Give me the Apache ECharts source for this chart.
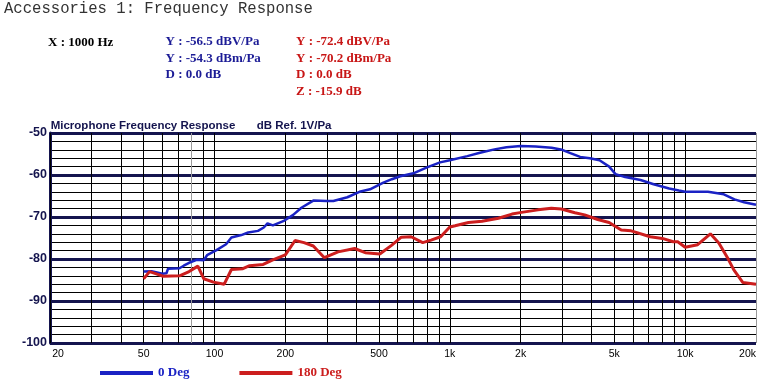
<!DOCTYPE html>
<html>
<head>
<meta charset="utf-8">
<script src="https://cdn.jsdelivr.net/npm/echarts@6/dist/echarts.min.js"></script>
<style>
html,body{margin:0;padding:0;background:#fff;}
#main{width:767px;height:383px;}
</style>
</head>
<body>
<div id="main"></div>
<script>
// ---- Data ----
const freq0 = [50,54,57,60,62.5,63.5,71,74,78,84,90,93,102,112,118,130,139,153,162,168,177,196,216,234,263,300,320,367,413,458,522,567,616,700,800,909,1000,1187,1343,1548,1741,2000,2317,2706,3000,3253,3580,3935,4326,4755,5059,5561,6463,7347,8550,9400,10000,12500,14600,16200,17800,20000];
const db0   = [-83.0,-82.9,-83.2,-83.5,-83.4,-82.3,-82.2,-81.6,-80.9,-80.2,-80.3,-79.1,-77.9,-76.5,-74.9,-74.3,-73.7,-73.3,-72.5,-71.5,-72.0,-71.0,-69.5,-67.8,-66.1,-66.2,-66.2,-65.3,-64.0,-63.4,-61.8,-61.0,-60.3,-59.6,-58.2,-57.0,-56.5,-55.5,-54.7,-53.9,-53.4,-53.1,-53.2,-53.5,-54.0,-54.8,-55.7,-56.0,-56.5,-58.0,-59.8,-60.5,-61.2,-62.2,-63.2,-63.7,-64.0,-64.0,-64.6,-65.8,-66.5,-67.1];

const freq180 = [50,53,57,60.5,71,78,85,90,99,110,118,132,141,161,177,200,220,240,263,293,335,394,437,504,567,622,685,767,832,914,1000,1053,1200,1370,1610,1837,2017,2370,2700,2980,3400,3740,4250,4750,5350,5900,7100,8000,8900,9300,10000,11300,12800,13900,15200,16100,17600,20000];
const db180   = [-84.7,-83.0,-83.6,-84.1,-84.0,-83.0,-81.7,-84.7,-85.5,-86.0,-82.5,-82.3,-81.6,-81.3,-80.2,-79.0,-75.6,-76.1,-76.9,-79.7,-78.3,-77.5,-78.5,-78.8,-76.7,-74.8,-74.7,-76.1,-75.5,-74.7,-72.4,-72.1,-71.3,-71.0,-70.3,-69.3,-68.9,-68.3,-67.9,-68.1,-69.0,-69.5,-70.6,-71.3,-73.1,-73.3,-74.7,-75.1,-75.9,-75.9,-77.2,-76.6,-74.0,-76.2,-79.9,-82.6,-85.6,-86.0];

const xGridValues = [20,30,40,50,60,70,80,90,100,200,300,400,500,600,700,800,900,1000,2000,3000,4000,5000,6000,7000,8000,9000,10000,20000];
const xTickLabels = [20,50,100,200,500,1000,2000,5000,10000,20000];
const yMin = -100, yMax = -50, yStep = 10;

const seriesNames = ['0 Deg','180 Deg'];
const infoX = 'X : 1000 Hz';
const info0 = ['Y : -56.5 dBV/Pa','Y : -54.3 dBm/Pa','D : 0.0 dB'];
const info180 = ['Y : -72.4 dBV/Pa','Y : -70.2 dBm/Pa','D : 0.0 dB','Z : -15.9 dB'];

// ---- Styles ----
const NAVY = '#14144e';
const BLUE = '#1a22c4';
const RED = '#cc1e1e';
const INFO_BLUE = '#1c1c96';
const INFO_RED = '#c81616';

function fmtHz(v){ return v >= 1000 ? (v/1000) + 'k' : String(v); }

const gridLineData = xGridValues.map(v => {
  const isLabel = xTickLabels.indexOf(v) >= 0;
  let color = '#000';
  if (v === 80 || v === 20000) color = '#9a9a9a';
  let fmt = fmtHz(v);
  if (v === xTickLabels[0]) fmt = '{l|' + fmt + '}';
  else if (v === xTickLabels[xTickLabels.length-1]) fmt = '{r|' + fmt + '}';
  else fmt = '{c|' + fmt + '}';
  return {
    xAxis: v,
    lineStyle: {color: color, width: 1, type: 'solid'},
    label: {
      show: isLabel, position: 'start', distance: 6, formatter: fmt,
      rich: {
        l: {fontFamily:'Liberation Sans, Arial', fontSize:10.5, color:'#000', padding:[0,0,0,16]},
        r: {fontFamily:'Liberation Sans, Arial', fontSize:10.5, color:'#000', padding:[0,17,0,0]},
        c: {fontFamily:'Liberation Sans, Arial', fontSize:10.5, color:'#000'}
      }
    }
  };
});

const chart = echarts.init(document.getElementById('main'), null, {renderer:'canvas'});
chart.setOption({
  animation: false,
  backgroundColor: '#fff',
  title: [
    {text:'Accessories 1: Frequency Response', left:4, top:1, padding:0,
     textStyle:{fontFamily:'Liberation Mono', fontSize:15.6, fontWeight:'normal', color:'#333'}},
    {text:infoX, left:48, top:34, padding:0,
     textStyle:{fontFamily:'Liberation Serif', fontSize:13, fontWeight:'bold', color:'#000', lineHeight:16.7}},
    {text:info0.join('\n'), left:165.5, top:33.3, padding:0,
     textStyle:{fontFamily:'Liberation Serif', fontSize:13, fontWeight:'bold', color:INFO_BLUE, lineHeight:16.7}},
    {text:info180.join('\n'), left:296, top:33.3, padding:0,
     textStyle:{fontFamily:'Liberation Serif', fontSize:13, fontWeight:'bold', color:INFO_RED, lineHeight:16.7}},
    {text:'Microphone Frequency Response', left:50.7, top:119.5, padding:0,
     textStyle:{fontFamily:'Liberation Sans', fontSize:11.5, fontWeight:'bold', color:NAVY}},
    {text:'dB Ref. 1V/Pa', left:256.7, top:119.5, padding:0,
     textStyle:{fontFamily:'Liberation Sans', fontSize:11.5, fontWeight:'bold', color:NAVY}}
  ],
  legend: {
    data: [
      {name: seriesNames[0], textStyle:{color: BLUE}},
      {name: seriesNames[1], textStyle:{color: RED}}
    ],
    left: 100, top: 366, padding: 0,
    icon: 'rect', itemWidth: 53, itemHeight: 4, itemGap: 50,
    textStyle: {fontFamily:'Liberation Serif', fontSize:13, fontWeight:'bold', lineHeight:14}
  },
  grid: {left:50, right:11, top:133, bottom:40},
  xAxis: {
    type: 'log', logBase: 10, min: 20, max: 20000,
    axisLine: {show:false}, axisTick: {show:false}, axisLabel: {show:false}, splitLine: {show:false}
  },
  yAxis: {
    type: 'value', min: yMin, max: yMax, interval: yStep,
    axisLine: {show:true, lineStyle:{color:NAVY, width:3}},
    axisTick: {show:false},
    axisLabel: {fontFamily:'Liberation Sans', fontSize:12.5, fontWeight:'bold', color:NAVY, margin:3},
    splitLine: {show:true, lineStyle:{color:NAVY, width:3}},
    minorTick: {show:false, splitNumber:5},
    minorSplitLine: {show:true, lineStyle:{color:'#000', width:1}}
  },
  series: [
    {
      name: 'grid', type: 'line', data: [], silent: true,
      markLine: {silent:true, symbol:['none','none'], animation:false, z:3, data: gridLineData}
    },
    {
      name: seriesNames[0], type: 'line', z: 10, showSymbol: false, symbol: 'none',
      color: BLUE, lineStyle: {color: BLUE, width: 2.5},
      data: freq0.map((f,i) => [f, db0[i]])
    },
    {
      name: seriesNames[1], type: 'line', z: 10, showSymbol: false, symbol: 'none',
      color: RED, lineStyle: {color: RED, width: 3},
      data: freq180.map((f,i) => [f, db180[i]])
    }
  ]
});
</script>
</body>
</html>
